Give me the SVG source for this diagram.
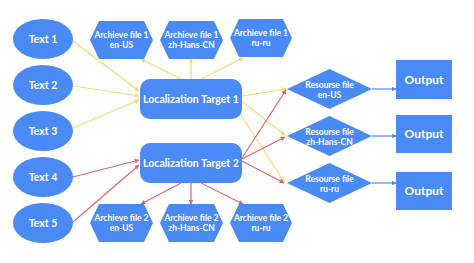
<svg xmlns="http://www.w3.org/2000/svg" width="474" height="263" viewBox="0 0 474 263">
<style>
.n{fill:#4a8af4}
.t{fill:#fff;font-family:Lato,"Open Sans",sans-serif;font-weight:bold;text-anchor:middle}
.s{font-size:10.5px}
.o{font-size:12px}
.h{font-size:8.5px}
.y{stroke:#f7d969;stroke-width:1.2;fill:none;marker-end:url(#ay)}
.r{stroke:#e5636d;stroke-width:1.2;fill:none;marker-end:url(#ar)}
.b{stroke:#4a8af4;stroke-width:1.2;fill:none;marker-end:url(#ab)}
</style>
<defs>
<marker id="ay" viewBox="0 0 10 10" refX="9" refY="5" markerWidth="4" markerHeight="4" orient="auto"><path d="M0,0L10,5L0,10z" fill="#f7d969"/></marker>
<marker id="ar" viewBox="0 0 10 10" refX="9" refY="5" markerWidth="4" markerHeight="4" orient="auto"><path d="M0,0L10,5L0,10z" fill="#e5636d"/></marker>
<marker id="ab" viewBox="0 0 10 10" refX="9" refY="5" markerWidth="4" markerHeight="4" orient="auto"><path d="M0,0L10,5L0,10z" fill="#4a8af4"/></marker>
</defs>
<rect width="474" height="263" fill="#fff"/>
<g id="connectors">
<line class="y" x1="73" y1="41" x2="139" y2="91"/>
<line class="y" x1="74" y1="86" x2="139" y2="96"/>
<line class="y" x1="73" y1="128" x2="139" y2="100"/>
<line class="y" x1="181" y1="79" x2="141" y2="59"/>
<line class="y" x1="191" y1="79" x2="191" y2="59"/>
<line class="y" x1="201" y1="79" x2="243" y2="58"/>
<line class="y" x1="242" y1="96" x2="286" y2="89"/>
<line class="y" x1="240" y1="100" x2="285" y2="135"/>
<line class="y" x1="236" y1="107" x2="284" y2="182"/>
<line class="r" x1="73" y1="177" x2="139" y2="160"/>
<line class="r" x1="73" y1="222" x2="139" y2="165"/>
<line class="r" x1="181" y1="183" x2="141" y2="204"/>
<line class="r" x1="191" y1="183" x2="191" y2="204"/>
<line class="r" x1="201" y1="183" x2="243" y2="204"/>
<line class="r" x1="242" y1="158" x2="286" y2="90"/>
<line class="r" x1="242" y1="159" x2="285" y2="137"/>
<line class="r" x1="242" y1="161" x2="284" y2="183"/>
<line class="b" x1="372" y1="89" x2="396" y2="89"/>
<line class="b" x1="372" y1="136" x2="396" y2="136"/>
<line class="b" x1="372" y1="183" x2="396" y2="183"/>
</g>
<g id="text1"><ellipse class="n" cx="43" cy="39" rx="30" ry="20"/><text class="t s" x="43" y="43">Text 1</text></g>
<g id="text2"><ellipse class="n" cx="43" cy="85" rx="30" ry="20"/><text class="t s" x="43" y="89">Text 2</text></g>
<g id="text3"><ellipse class="n" cx="43" cy="131" rx="30" ry="20"/><text class="t s" x="43" y="135">Text 3</text></g>
<g id="text4"><ellipse class="n" cx="43" cy="177" rx="30" ry="20"/><text class="t s" x="43" y="181">Text 4</text></g>
<g id="text5"><ellipse class="n" cx="43" cy="223" rx="30" ry="20"/><text class="t s" x="43" y="227">Text 5</text></g>
<g id="arch1-en"><polygon class="n" points="90,40 99,21 144,21 153,40 144,59 99,59"/><text class="t h" x="121.5" y="38">Archieve file 1</text><text class="t h" x="121.5" y="48">en-US</text></g>
<g id="arch1-zh"><polygon class="n" points="160,40 169,21 214,21 223,40 214,59 169,59"/><text class="t h" x="191.5" y="38">Archieve file 1</text><text class="t h" x="191.5" y="48">zh-Hans-CN</text></g>
<g id="arch1-ru"><polygon class="n" points="230,38 239,19 283,19 292,38 283,57 239,57"/><text class="t h" x="261" y="36">Archieve file 1</text><text class="t h" x="261" y="46">ru-ru</text></g>
<g id="arch2-en"><polygon class="n" points="90,223 99,204 144,204 153,223 144,242 99,242"/><text class="t h" x="121.5" y="221">Archieve file 2</text><text class="t h" x="121.5" y="231">en-US</text></g>
<g id="arch2-zh"><polygon class="n" points="160,223 169,204 214,204 223,223 214,242 169,242"/><text class="t h" x="191.5" y="221">Archieve file 2</text><text class="t h" x="191.5" y="231">zh-Hans-CN</text></g>
<g id="arch2-ru"><polygon class="n" points="230,223 239,204 283,204 292,223 283,242 239,242"/><text class="t h" x="261" y="221">Archieve file 2</text><text class="t h" x="261" y="231">ru-ru</text></g>
<g id="target1"><rect class="n" x="140" y="79" width="102" height="40" rx="10"/><text class="t s" x="191" y="103">Localization Target 1</text></g>
<g id="target2"><rect class="n" x="140" y="143" width="102" height="40" rx="10"/><text class="t s" x="191" y="167">Localization Target 2</text></g>
<g id="res-en"><polygon class="n" points="287,89 329.5,69 372,89 329.5,109"/><text class="t h" x="329.5" y="88">Resourse file</text><text class="t h" x="329.5" y="98">en-US</text></g>
<g id="res-zh"><polygon class="n" points="287,136 329.5,116 372,136 329.5,156"/><text class="t h" x="329.5" y="135">Resourse file</text><text class="t h" x="329.5" y="145">zh-Hans-CN</text></g>
<g id="res-ru"><polygon class="n" points="287,183 329.5,163 372,183 329.5,203"/><text class="t h" x="329.5" y="182">Resourse file</text><text class="t h" x="329.5" y="192">ru-ru</text></g>
<g id="out1"><rect class="n" x="396" y="60" width="56" height="39"/><text class="t o" x="424" y="84">Output</text></g>
<g id="out2"><rect class="n" x="396" y="115" width="56" height="38"/><text class="t o" x="424" y="138">Output</text></g>
<g id="out3"><rect class="n" x="396" y="172" width="56" height="38"/><text class="t o" x="424" y="195">Output</text></g>
</svg>
